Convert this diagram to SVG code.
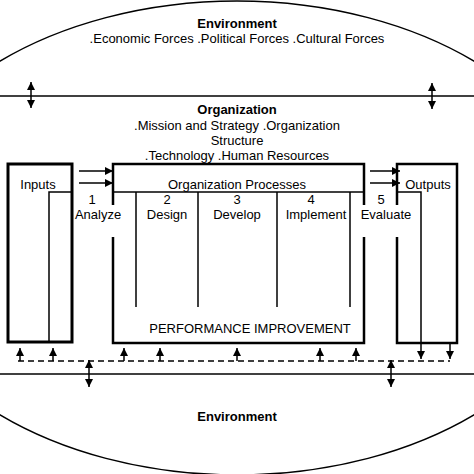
<svg xmlns="http://www.w3.org/2000/svg" width="474" height="474" viewBox="0 0 474 474">
<style>
text{font-family:"Liberation Sans",Arial,sans-serif;font-size:13px;fill:#000;text-anchor:middle}
.b{font-weight:bold}
.thick{fill:none;stroke:#000;stroke-width:3}
.thin{fill:none;stroke:#000;stroke-width:1.5}
.ln{stroke:#000;stroke-width:1.5;fill:none}
.dash{stroke:#000;stroke-width:1.5;stroke-dasharray:6 4;fill:none}
</style>
<defs>
<marker id="ah" viewBox="0 0 10 10" refX="10" refY="5" markerWidth="8" markerHeight="8" markerUnits="userSpaceOnUse" orient="auto-start-reverse">
<path d="M0,0 L10,5 L0,10 Z" fill="#000"/>
</marker>
</defs>
<rect width="474" height="474" fill="#fff"/>
<g id="environment-frame">
<ellipse cx="237" cy="238" rx="356" ry="237" fill="none" stroke="#000" stroke-width="1.5"/>
<line x1="0" y1="96" x2="474" y2="96" class="ln"/>
<line x1="0" y1="374" x2="474" y2="374" class="ln"/>
</g>
<g id="env-top">
<text x="237" y="28" class="b">Environment</text>
<text x="237" y="43">.Economic Forces .Political Forces .Cultural Forces</text>
</g>
<g id="organization">
<text x="237" y="114" class="b">Organization</text>
<text x="237" y="130">.Mission and Strategy .Organization</text>
<text x="237" y="145">Structure</text>
<text x="237" y="160">.Technology .Human Resources</text>
</g>
<g id="inputs">
<rect x="8" y="164" width="64" height="178" class="thick"/>
<path d="M72,192 H49 V342" class="thin"/>
<text x="38" y="189">Inputs</text>
</g>
<g id="processes">
<path d="M113,205 V164 H364 V205" class="thick" style="stroke-width:2.5"/>
<path d="M113,237 V343 H364 V237" class="thick" style="stroke-width:2.5"/>
<line x1="113" y1="192" x2="364" y2="192" class="ln"/>
<line x1="136" y1="192" x2="136" y2="307" class="ln"/>
<line x1="198" y1="192" x2="198" y2="307" class="ln"/>
<line x1="277" y1="192" x2="277" y2="307" class="ln"/>
<line x1="350" y1="192" x2="350" y2="307" class="ln"/>
<text x="237" y="189">Organization Processes</text>
<text x="92" y="204">1</text>
<text x="98" y="219">Analyze</text>
<text x="167" y="204">2</text>
<text x="167" y="219">Design</text>
<text x="237" y="204">3</text>
<text x="237" y="219">Develop</text>
<text x="311" y="204">4</text>
<text x="316" y="219">Implement</text>
<text x="381" y="204">5</text>
<text x="386" y="219">Evaluate</text>
<text x="250" y="333">PERFORMANCE IMPROVEMENT</text>
</g>
<g id="outputs">
<path d="M397,205 V164 H457 V343 H397 V237" class="thick" style="stroke-width:2.5"/>
<path d="M397,192 H421 V343" class="thin"/>
<text x="428" y="189">Outputs</text>
</g>
<g id="connectors">
<line x1="79" y1="171" x2="113" y2="171" class="ln" marker-end="url(#ah)"/>
<line x1="79" y1="183" x2="113" y2="183" class="ln" marker-end="url(#ah)"/>
<line x1="370" y1="171" x2="400" y2="171" class="ln" marker-end="url(#ah)"/>
<line x1="370" y1="183" x2="400" y2="183" class="ln" marker-end="url(#ah)"/>
<line x1="31" y1="82" x2="31" y2="108" class="ln" marker-start="url(#ah)" marker-end="url(#ah)"/>
<line x1="432" y1="83" x2="432" y2="109" class="ln" marker-start="url(#ah)" marker-end="url(#ah)"/>
<line x1="18" y1="361" x2="450" y2="361" class="dash"/>
<line x1="20" y1="361" x2="20" y2="348" class="ln" marker-end="url(#ah)"/>
<line x1="53" y1="361" x2="53" y2="348" class="ln" marker-end="url(#ah)"/>
<line x1="124" y1="361" x2="124" y2="348" class="ln" marker-end="url(#ah)"/>
<line x1="160" y1="361" x2="160" y2="348" class="ln" marker-end="url(#ah)"/>
<line x1="237" y1="361" x2="237" y2="348" class="ln" marker-end="url(#ah)"/>
<line x1="320" y1="361" x2="320" y2="348" class="ln" marker-end="url(#ah)"/>
<line x1="356" y1="361" x2="356" y2="348" class="ln" marker-end="url(#ah)"/>
<line x1="421" y1="344" x2="421" y2="359" class="ln" marker-end="url(#ah)"/>
<line x1="450" y1="344" x2="450" y2="359" class="ln" marker-end="url(#ah)"/>
<line x1="89" y1="360" x2="89" y2="387" class="ln" marker-start="url(#ah)" marker-end="url(#ah)"/>
<line x1="391" y1="360" x2="391" y2="387" class="ln" marker-start="url(#ah)" marker-end="url(#ah)"/>
</g>
<g id="env-bottom">
<text x="237" y="421" class="b">Environment</text>
</g>
</svg>
